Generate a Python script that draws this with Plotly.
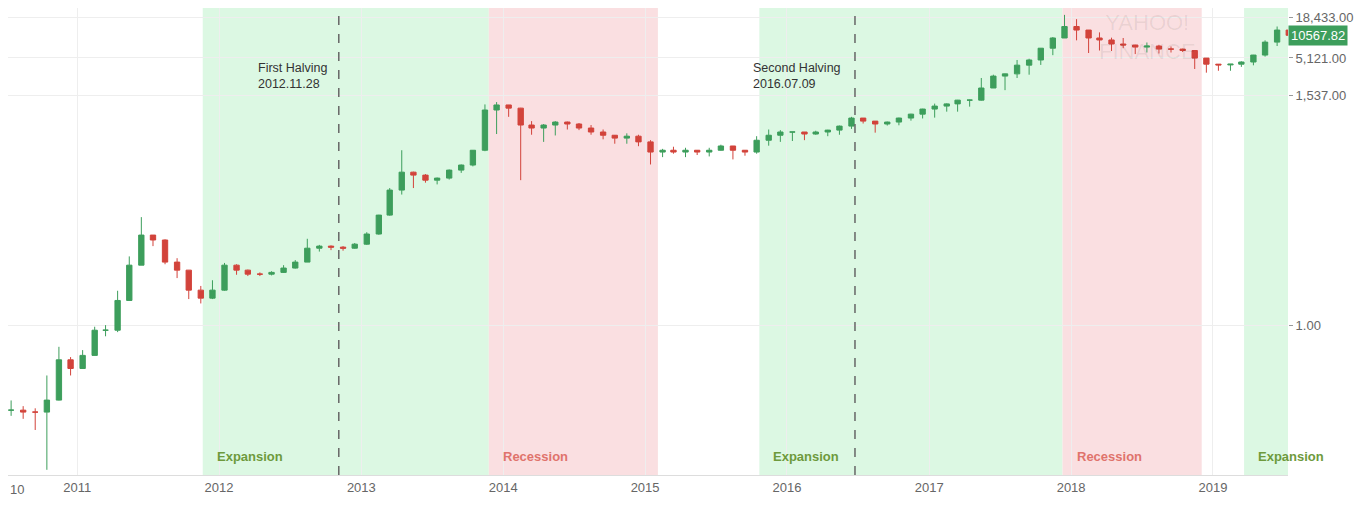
import numpy as np
import pandas as pd
import plotly.graph_objects as go

# monthly candles, Jul 2010 .. Jul 2019
closes = [
    0.066, 0.062, 0.062, 0.091, 0.33, 0.25,
    0.38, 0.85, 0.85, 2.2, 6.8, 17.8, 15.2, 7.5, 5.8, 3.06, 2.37, 3.06,
    6.8, 5.8, 5.1, 5.1, 5.4, 6.2, 7.5, 11.7, 12.5, 12.1, 11.7, 13.3,
    18.4, 33.7, 75, 133, 121, 103, 110, 142, 167, 268, 970, 1140,
    1030, 600, 545, 600, 660, 620, 545, 480, 433, 395, 420, 350,
    253, 268, 253, 268, 253, 268, 307, 268, 253, 369, 433, 480,
    480, 450, 480, 510, 580, 750, 680, 620, 660, 750, 850, 1000,
    1100, 1180, 1330, 1330, 1960, 2870, 3080, 4070, 4800, 7000, 9700, 14000,
    12500, 9700, 9100, 8000, 7750, 7250, 7500, 6800, 6800, 6500, 5100, 4200,
    4100, 4200, 4500, 5620, 8500, 12500, 10567.82,
]
highs = [
    0.09, 0.075, 0.07, 0.2, 0.5, 0.36,
    0.45, 0.95, 1.0, 3.0, 9.0, 31.6, 17.5, 15.5, 8.5, 5.8, 3.5, 4.2,
    7.3, 7.0, 5.9, 5.4, 5.6, 6.8, 8.0, 15.8, 13.0, 12.8, 12.5, 13.8,
    19.5, 34, 80, 268, 135, 125, 112, 145, 170, 270, 1160, 1250,
    1100, 1040, 680, 620, 680, 670, 640, 600, 520, 420, 460, 440,
    370, 280, 300, 290, 260, 290, 320, 300, 265, 420, 520, 510,
    480, 460, 500, 515, 590, 780, 700, 650, 670, 760, 860, 1010,
    1190, 1200, 1340, 1350, 2700, 3000, 3100, 4800, 5000, 7000, 10000, 20300,
    17700, 11700, 11600, 9800, 9700, 7800, 8400, 7800, 7400, 6900, 6600, 4300,
    4100, 4200, 4600, 5650, 9000, 14000, 13000,
]
lows = [
    0.055, 0.05, 0.035, 0.0098, 0.09, 0.2,
    0.25, 0.38, 0.7, 0.8, 2.2, 6.8, 12.5, 7.0, 4.5, 2.3, 2.0, 2.3,
    3.0, 5.0, 4.8, 4.8, 4.9, 5.3, 6.1, 7.5, 10.5, 11.0, 10.8, 11.5,
    13, 18, 33, 65, 80, 95, 90, 105, 130, 160, 260, 450,
    780, 103, 440, 350, 430, 520, 510, 440, 380, 330, 330, 305,
    170, 215, 240, 215, 230, 220, 265, 200, 225, 240, 310, 350,
    360, 370, 440, 420, 440, 530, 630, 470, 590, 595, 690, 740,
    760, 920, 920, 1080, 1310, 2100, 1830, 2700, 3000, 4100, 5600, 10700,
    9000, 6000, 6500, 6400, 7000, 5800, 6100, 5900, 6100, 6200, 3600, 3200,
    3400, 3400, 3850, 4050, 5350, 7500, 9100,
]
opens = [closes[0]] + closes[:-1]
dates = pd.date_range("2010-07-01", periods=len(closes), freq="MS") + pd.Timedelta(days=14)

phases = [
    ("2011-11-20", "2013-11-25", "Expansion"),
    ("2013-11-25", "2015-02-03", "Recession"),
    ("2015-10-22", "2017-12-10", "Expansion"),
    ("2017-12-10", "2018-12-03", "Recession"),
    ("2019-03-22", "2019-07-13", "Expansion"),
]
halvings = [("2012-11-04", "First Halving<br>2012.11.28", "2012-04-05"),
            ("2016-06-24", "Second Halving<br>2016.07.09", "2015-10-01")]
y_ticks = [1, 1537, 5121, 18433]
y_labels = ["1.00", "1,537.00", "5,121.00", "18,433.00"]
last_price = 10567.82
x_end = "2019-07-13"

GREEN = "#3d9e5c"
RED = "#d2433b"

fig = go.Figure()
fig.add_trace(go.Candlestick(
    x=dates, open=opens, high=highs, low=lows, close=closes,
    increasing=dict(line=dict(color=GREEN, width=1), fillcolor=GREEN),
    decreasing=dict(line=dict(color=RED, width=1), fillcolor=RED),
    whiskerwidth=0, showlegend=False,
))

for start, end, label in phases:
    exp = label == "Expansion"
    fig.add_vrect(x0=start, x1=end, fillcolor="#dcf8e3" if exp else "#fadfe1",
                  opacity=1, line_width=0, layer="below")
    fig.add_annotation(x=start, y=0.02, yref="paper", text=f"<b>{label}</b>",
                       showarrow=False, xanchor="left", xshift=12,
                       font=dict(size=13, color="#6e9a3c" if exp else "#e0736c"))

for xd, text, tx in halvings:
    fig.add_vline(x=xd, line_dash="dash", line_color="#666", line_width=1.5)
    fig.add_annotation(x=tx, y=0.89, yref="paper", text=text, showarrow=False,
                       xanchor="left", align="left", font=dict(size=12.5, color="#333"))

fig.add_annotation(x=1.0, xref="paper", y=np.log10(last_price), text=f"{last_price:.2f}",
                   showarrow=False, xanchor="left", bgcolor=GREEN, borderpad=2,
                   font=dict(size=13, color="white"))
fig.add_annotation(x=0.0, xref="paper", y=-0.01, yref="paper", text="10", showarrow=False,
                   xanchor="left", yanchor="top", font=dict(size=13, color="#666"))
fig.add_annotation(x=0.93, xref="paper", y=1.0, yref="paper", text="YAHOO!<br>FINANCE",
                   showarrow=False, font=dict(size=22, color="rgba(0,0,0,0.07)"))

fig.update_layout(
    width=1358, height=500, margin=dict(l=0, r=78, t=0, b=33),
    paper_bgcolor="white", plot_bgcolor="white",
    font=dict(family="Liberation Sans, Arial", size=13, color="#666"),
    xaxis=dict(range=["2010-07-07", x_end], rangeslider_visible=False,
               dtick="M12", tick0="2011-01-01", tickformat="%Y", showgrid=True,
               gridcolor="#eeeeee", showline=True, linecolor="#dddddd", ticks=""),
    yaxis=dict(type="log", range=[np.log10(0.0083), np.log10(25300)], side="right",
               tickvals=y_ticks, ticktext=y_labels, gridcolor="#eeeeee",
               ticks="outside", ticklen=4, tickcolor="#999", zeroline=False),
)

fig.write_html("out.html")
